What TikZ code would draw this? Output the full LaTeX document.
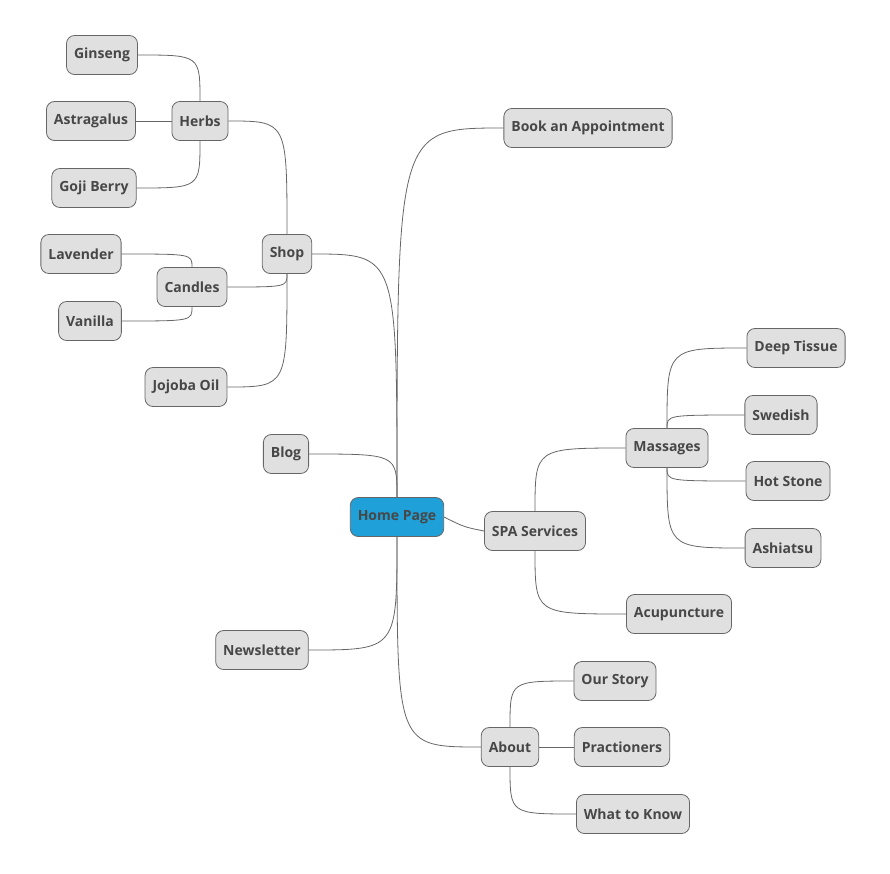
\documentclass[tikz,border=0pt]{standalone}
\usepackage{fontspec}
\setmainfont{Open Sans}
\begin{document}
\begin{tikzpicture}[x=1pt,y=-1pt,
  box/.style={draw=black!60,fill=black!12,rounded corners=8pt,minimum height=39pt,inner xsep=7.5pt,
    font=\fontsize{14}{16}\selectfont\bfseries,text=black!72,line width=0.8pt},
  conn/.style={draw=black!60,line width=0.8pt}]
\useasboundingbox (0,0) rectangle (890,873);
\newcommand\lnk[2]{\draw[conn] (#1) .. controls (#1 |- #2) .. (#2);}
\node[box] (ginseng) at (102,55) {Ginseng};
\node[box] (astra) at (91,121) {Astragalus};
\node[box] (herbs) at (200,121) {Herbs};
\node[box] (goji) at (94,188) {Goji Berry};
\node[box] (lav) at (81,254) {Lavender};
\node[box] (candles) at (192,287) {Candles};
\node[box] (vanilla) at (90,321) {Vanilla};
\node[box] (shop) at (287,254) {Shop};
\node[box] (jojoba) at (186,387) {Jojoba Oil};
\node[box] (blog) at (286,454) {Blog};
\node[box,fill={rgb,255:red,31;green,160;blue,216}] (home) at (397,517) {Home Page};
\node[box] (book) at (588,128) {Book an Appointment};
\node[box] (spa) at (535,531) {SPA Services};
\node[box] (mass) at (667,448) {Massages};
\node[box] (deep) at (796,348) {Deep Tissue};
\node[box] (swed) at (781,415) {Swedish};
\node[box] (hot) at (788,481) {Hot Stone};
\node[box] (ashi) at (783,548) {Ashiatsu};
\node[box] (acu) at (679,614) {Acupuncture};
\node[box] (news) at (262,650) {Newsletter};
\node[box] (about) at (510,747) {About};
\node[box] (story) at (615,681) {Our Story};
\node[box] (pract) at (622,747) {Practioners};
\node[box] (know) at (633,814) {What to Know};
% home
\lnk{home.north}{book.west}
\lnk{home.north}{shop.east}
\lnk{home.north}{blog.east}
\lnk{home.south}{news.east}
\lnk{home.south}{about.west}
\draw[conn] (home.east) .. controls (464,527) .. (spa.west);
% shop
\lnk{shop.north}{herbs.east}
\lnk{shop.south}{candles.east}
\lnk{shop.south}{jojoba.east}
\lnk{herbs.north}{ginseng.east}
\draw[conn] (herbs.west) -- (astra.east);
\lnk{herbs.south}{goji.east}
\lnk{candles.north}{lav.east}
\lnk{candles.south}{vanilla.east}
% spa
\lnk{spa.north}{mass.west}
\lnk{spa.south}{acu.west}
\lnk{mass.north}{deep.west}
\lnk{mass.north}{swed.west}
\lnk{mass.south}{hot.west}
\lnk{mass.south}{ashi.west}
% about
\lnk{about.north}{story.west}
\draw[conn] (about.east) -- (pract.west);
\lnk{about.south}{know.west}
\end{tikzpicture}
\end{document}
